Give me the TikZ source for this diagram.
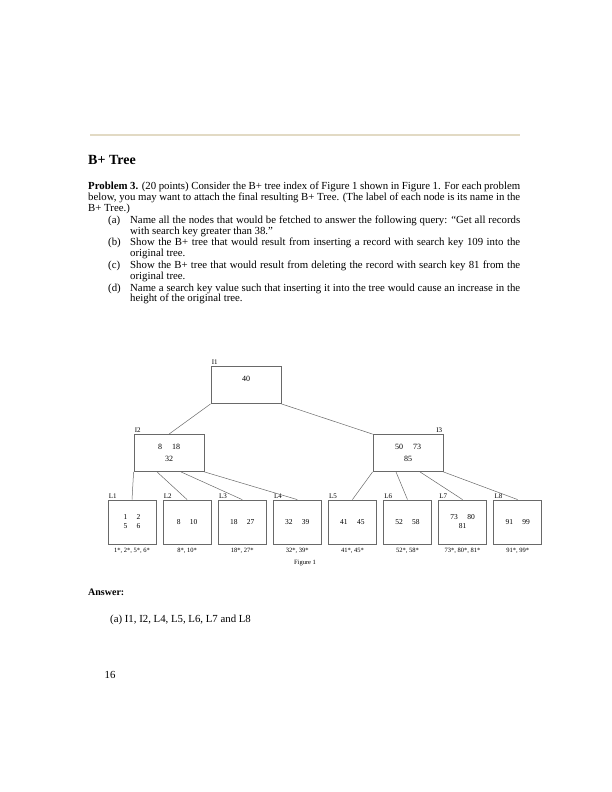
\documentclass[tikz,border=0pt]{standalone}
\usepackage{fontspec}
\setmainfont{Liberation Serif}
\usepackage{xcolor}
\usetikzlibrary{positioning}

\definecolor{rulebeige}{RGB}{226,218,196}
\definecolor{treegray}{RGB}{105,105,105}

\begin{document}
\begin{tikzpicture}[
    x=1pt, y=-1pt,
    txt/.style={anchor=north west, inner sep=0pt, align=justify, font=\fontsize{10.8}{10.8}\selectfont},
    itm/.style={anchor=north west, inner sep=0pt, font=\fontsize{10.8}{10.8}\selectfont},
    inode/.style={draw=treegray, line width=0.8pt, rectangle, minimum width=70pt, minimum height=37pt, align=center, font=\fontsize{8}{10}\selectfont},
    leaf/.style={draw=treegray, line width=0.8pt, rectangle, minimum width=48pt, minimum height=44pt, align=center, font=\fontsize{7.5}{9}\selectfont},
    tag/.style={font=\fontsize{7}{8}\selectfont, inner sep=1pt},
    entry/.style={font=\fontsize{6.5}{8}\selectfont, inner sep=1pt},
    edge/.style={draw=treegray, line width=0.5pt},
    node distance=6.3pt
]
    \useasboundingbox (0,0) rectangle (612,792);

    % Header
    \draw[rulebeige, line width=1.4pt] (90,135) -- (520,135);
    \node[anchor=west, inner sep=0pt, font=\bfseries\fontsize{14}{16}\selectfont] (title) at (88,160) {B+ Tree};

    % Problem statement
    \node[txt, text width=432pt] (intro) at (88,182) {
        \textbf{Problem 3.} (20 points) Consider the B+ tree index of Figure 1 shown in Figure 1. For each
        problem below, you may want to attach the final resulting B+ Tree. (The label of each node is
        its name in the B+ Tree.)};
    \node[txt, text width=390pt, below=1.5pt of intro.south west, anchor=north west, xshift=42pt] (qa) {
        Name all the nodes that would be fetched to answer the following query: ``Get all
        records with search key greater than 38.''};
    \node[txt, text width=390pt, below=1.5pt of qa.south west, anchor=north west] (qb) {
        Show the B+ tree that would result from inserting a record with search key 109
        into the original tree.};
    \node[txt, text width=390pt, below=1.5pt of qb.south west, anchor=north west] (qc) {
        Show the B+ tree that would result from deleting the record with search key 81
        from the original tree.};
    \node[txt, text width=390pt, below=1.5pt of qc.south west, anchor=north west] (qd) {
        Name a search key value such that inserting it into the tree would cause an
        increase in the height of the original tree.};
    \node[itm] (la) at ([xshift=-22pt]qa.north west) {(a)};
    \node[itm] (lb) at ([xshift=-22pt]qb.north west) {(b)};
    \node[itm] (lc) at ([xshift=-22pt]qc.north west) {(c)};
    \node[itm] (ld) at ([xshift=-22pt]qd.north west) {(d)};

    % Index nodes
    \node[inode, label={[tag, anchor=south west]north west:I1}] (root) at (246,385) {40\\[2pt]\phantom{0}};
    \node[inode, label={[tag, anchor=south west]north west:I2}] (lft) at (169,453) {8 \quad 18\\[2pt]32};
    \node[inode, label={[tag, anchor=south east]north east:I3}] (rgt) at (408,453) {50 \quad 73\\[2pt]85};

    % Leaf nodes
    \node[leaf, label={[tag, anchor=south west]north west:L1}] (l1) at (132,522) {1 \quad 2\\5 \quad 6};
    \node[leaf, right=of l1, label={[tag, anchor=south west]north west:L2}] (l2) {8 \quad 10};
    \node[leaf, right=of l2, label={[tag, anchor=south west]north west:L3}] (l3) {18 \quad 27};
    \node[leaf, right=of l3, label={[tag, anchor=south west]north west:L4}] (l4) {32 \quad 39};
    \node[leaf, right=of l4, label={[tag, anchor=south west]north west:L5}] (l5) {41 \quad 45};
    \node[leaf, right=of l5, label={[tag, anchor=south west]north west:L6}] (l6) {52 \quad 58};
    \node[leaf, right=of l6, label={[tag, anchor=south west]north west:L7}] (l7) {73 \quad 80\\81};
    \node[leaf, right=of l7, label={[tag, anchor=south west]north west:L8}] (l8) {91 \quad 99};

    % Data entries
    \node[entry, below=3pt of l1] (e1) {1*, 2*, 5*, 6*};
    \node[entry, below=3pt of l2] (e2) {8*, 10*};
    \node[entry, below=3pt of l3] (e3) {18*, 27*};
    \node[entry, below=3pt of l4] (e4) {32*, 39*};
    \node[entry, below=3pt of l5] (e5) {41*, 45*};
    \node[entry, below=3pt of l6] (e6) {52*, 58*};
    \node[entry, below=3pt of l7] (e7) {73*, 80*, 81*};
    \node[entry, below=3pt of l8] (e8) {91*, 99*};
    \node[entry] (fig) at (305,563) {Figure 1};

    % Pointers
    \draw[edge] (root.south west) -- (lft.north);
    \draw[edge] (root.south east) -- (rgt.north west);
    \draw[edge] (lft.south west) -- (l1.north);
    \draw[edge] ([xshift=-12pt]lft.south) -- (l2.north);
    \draw[edge] ([xshift=12pt]lft.south) -- (l3.north);
    \draw[edge] (lft.south east) -- (l4.north);
    \draw[edge] (rgt.south west) -- (l5.north);
    \draw[edge] ([xshift=-12pt]rgt.south) -- (l6.north);
    \draw[edge] ([xshift=12pt]rgt.south) -- (l7.north);
    \draw[edge] (rgt.south east) -- (l8.north);

    % Answer
    \node[anchor=west, inner sep=0pt, font=\bfseries\fontsize{10}{11}\selectfont] (ans) at (88,592) {Answer:};
    \node[anchor=west, inner sep=0pt, font=\fontsize{10.8}{11}\selectfont] (ansa) at (110,620) {(a) I1, I2, L4, L5, L6, L7 and L8};
    \node[inner sep=0pt, font=\fontsize{10.8}{11}\selectfont] (pnum) at (110,675) {16};
\end{tikzpicture}
\end{document}
